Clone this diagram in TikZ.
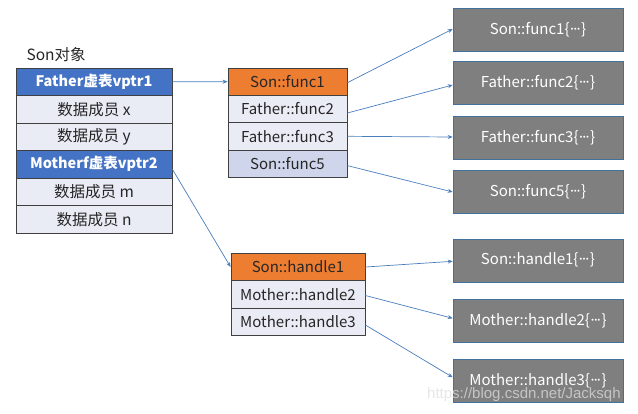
\documentclass[tikz,border=0pt]{standalone}
\usepackage{fontspec}
\setmainfont{Noto Sans CJK SC}
\newfontfamily\dotfont{Noto Sans}
\newfontfamily\wmfont{Liberation Sans}
\usetikzlibrary{arrows.meta}
\definecolor{hdrblue}{HTML}{4472C4}
\definecolor{rowfill}{HTML}{E9EBF5}
\definecolor{rowdark}{HTML}{CFD5EA}
\definecolor{orng}{HTML}{ED7D31}
\definecolor{gbox}{HTML}{7F7F7F}
\definecolor{gborder}{HTML}{41719C}
\definecolor{arrowblue}{HTML}{4A7EBB}
\definecolor{tline}{HTML}{404040}
\definecolor{txt}{HTML}{262626}
\definecolor{wmgray}{HTML}{DDDDDD}
\newcommand{\mydots}{{\dotfont\kern0.5pt·\kern-0.8pt·\kern-0.8pt·\kern0.5pt}}
\tikzset{
  cell/.style={draw=tline, line width=0.8pt, inner sep=0pt, font=\fontsize{15}{17}\selectfont, text=txt},
  sonrow/.style={cell, fill=rowfill, minimum width=156pt, minimum height=27.5pt, font=\fontsize{15.5}{17}\selectfont},
  sonhdr/.style={cell, fill=hdrblue, minimum width=156pt, minimum height=27.5pt, text=white, font=\fontsize{14.5}{17}\selectfont\bfseries},
  frow/.style={cell, fill=rowfill, minimum width=119pt, minimum height=27.3pt},
  hrow/.style={cell, fill=rowfill, minimum width=134pt, minimum height=27.5pt},
  impl/.style={draw=gborder, line width=0.6pt, fill=gbox, text=white, minimum width=170pt, minimum height=43pt, inner sep=0pt, font=\fontsize{15}{17}\selectfont},
  link/.style={draw=arrowblue, line width=0.7pt, -{Stealth[length=5pt,width=4pt]}},
}
\begin{document}
\begin{tikzpicture}[x=1pt,y=-1pt]
\useasboundingbox (0,0) rectangle (638,413);
% Son object
\node[anchor=west, font=\fontsize{15.5}{17}\selectfont, text=txt] (title) at (23,55) {Son对象};
\node[sonhdr] (fv) at (94,81.75) {Father虚表vptr1};
\node[sonrow] (dx) at (94,109.25) {数据成员 x};
\node[sonrow] (dy) at (94,136.75) {数据成员 y};
\node[sonhdr] (mv) at (94,164.25) {Motherf虚表vptr2};
\node[sonrow] (dm) at (94,191.75) {数据成员 m};
\node[sonrow] (dn) at (94,219.25) {数据成员 n};
% Father vtable
\node[frow, fill=orng] (f1) at (287.5,81.7) {Son::func1};
\node[frow] (f2) at (287.5,109) {Father::func2};
\node[frow] (f3) at (287.5,136.3) {Father::func3};
\node[frow, fill=rowdark] (f5) at (287.5,163.6) {Son::func5};
% Mother vtable
\node[hrow, fill=orng] (h1) at (298,267) {Son::handle1};
\node[hrow] (h2) at (298,294.5) {Mother::handle2};
\node[hrow] (h3) at (298,322) {Mother::handle3};
% implementations
\node[impl] (i1) at (538,30) {Son::func1\{\mydots\}};
\node[impl] (i2) at (538,83) {Father::func2\{\mydots\}};
\node[impl] (i3) at (538,138) {Father::func3\{\mydots\}};
\node[impl] (i4) at (538,192) {Son::func5\{\mydots\}};
\node[impl] (i5) at (538,260.3) {Son::handle1\{\mydots\}};
\node[impl] (i6) at (538,320.3) {Mother::handle2\{\mydots\}};
\node[impl] (i7) at (538,380.3) {Mother::handle3\{\mydots\}};
% connectors
\draw[link] (fv.east) -- (f1.west);
\draw[link] ([yshift=-5pt]mv.east) -- (h1.west);
\draw[link] ([yshift=-1pt]f1.east) -- ([yshift=1pt]i1.west);
\draw[link] ([yshift=-4pt]f2.east) -- ([yshift=-2pt]i2.west);
\draw[link] (f3.east) -- ([yshift=1pt]i3.west);
\draw[link] ([yshift=-2pt]f5.east) -- (i4.west);
\draw[link] (h1.east) -- ([yshift=-1pt]i5.west);
\draw[link] ([yshift=-1pt]h2.east) -- ([yshift=2pt]i6.west);
\draw[link] ([yshift=-3pt]h3.east) -- ([yshift=3pt]i7.west);
% watermark
\node[anchor=base west, text=wmgray, opacity=0.75, inner sep=0pt, font=\wmfont\fontsize{15}{17}\selectfont] (wm) at (427,398) {https://blog.csdn.net/Jacksqh};
\end{tikzpicture}
\end{document}
